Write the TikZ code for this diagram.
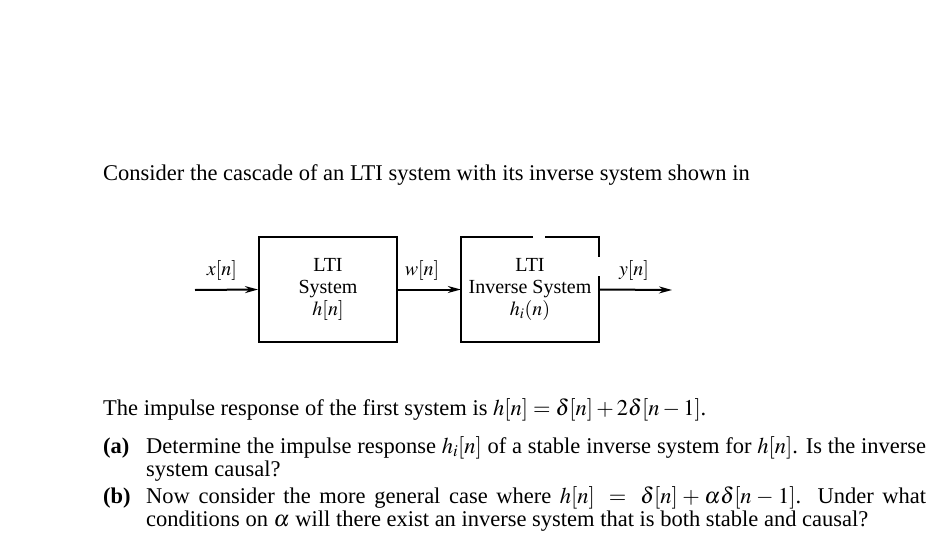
\documentclass[tikz,border=0pt]{standalone}
\usepackage{mathptmx}
\usepackage{fontspec}
\setmainfont{Liberation Serif}
\usetikzlibrary{arrows.meta}
\begin{document}
\begin{tikzpicture}[x=1pt,y=-1pt,
  txt/.style={anchor=west,inner sep=0pt,font=\fontsize{22.5}{23.5}\selectfont},
  lbl/.style={inner sep=0pt,font=\fontsize{20}{22}\selectfont},
  sig/.style={-{Stealth[length=13pt,width=7pt]},line width=2pt},
  box/.style={draw,line width=2pt,minimum width=138pt,minimum height=105pt,inner sep=0pt}]
\useasboundingbox (0,0) rectangle (948,554);
\node[txt] (t1) at (103,175) {Consider the cascade of an LTI system with its inverse system shown in};
\node[box] (b1) at (328,289.5) {};
\node[lbl,align=center] (l1) at (328,289) {LTI\\System\\$h[n]$};
\coordinate (b2c) at (530,289.5);
\node[minimum width=138pt,minimum height=105pt,inner sep=0pt] (b2) at (b2c) {};
\draw[line width=2pt] (533,237) -- (461,237) -- (461,342) -- (599,342) -- (599,276);
\draw[line width=2pt] (545,237) -- (599,237) -- (599,257);
\node[lbl,align=center] (l2) at (530,289) {LTI\\Inverse System\\$h_i(n)$};
\coordinate (in) at (195,290);
\coordinate (out) at (672,290);
\draw[sig] (in) -- (b1.west);
\draw[sig] (b1.east) -- (b2.west);
\draw[sig] (b2.east) -- (out);
\node[lbl] (x) at (222,270) {$x[n]$};
\node[lbl] (w) at (422,270) {$w[n]$};
\node[lbl] (y) at (634,270) {$y[n]$};
\node[txt] (t2) at (103,410) {The impulse response of the first system is $h[n]=\delta[n]+2\delta[n-1]$.};
\node[txt] (a) at (103,448) {\textbf{(a)}};
\node[txt,anchor=north west,text width=780pt,align=justify] (at) at (146,436) {Determine the impulse response $h_i[n]$ of a stable inverse system for $h[n]$. Is the inverse system causal?};
\node[txt] (b) at (103,498) {\textbf{(b)}};
\node[txt,anchor=north west,text width=780pt,align=justify] (bt) at (146,486) {Now consider the more general case where $h[n]\;=\;\delta[n]+\alpha\delta[n-1]$. Under what\linebreak conditions on $\alpha$ will there exist an inverse system that is both stable and causal?};
\end{tikzpicture}
\end{document}
